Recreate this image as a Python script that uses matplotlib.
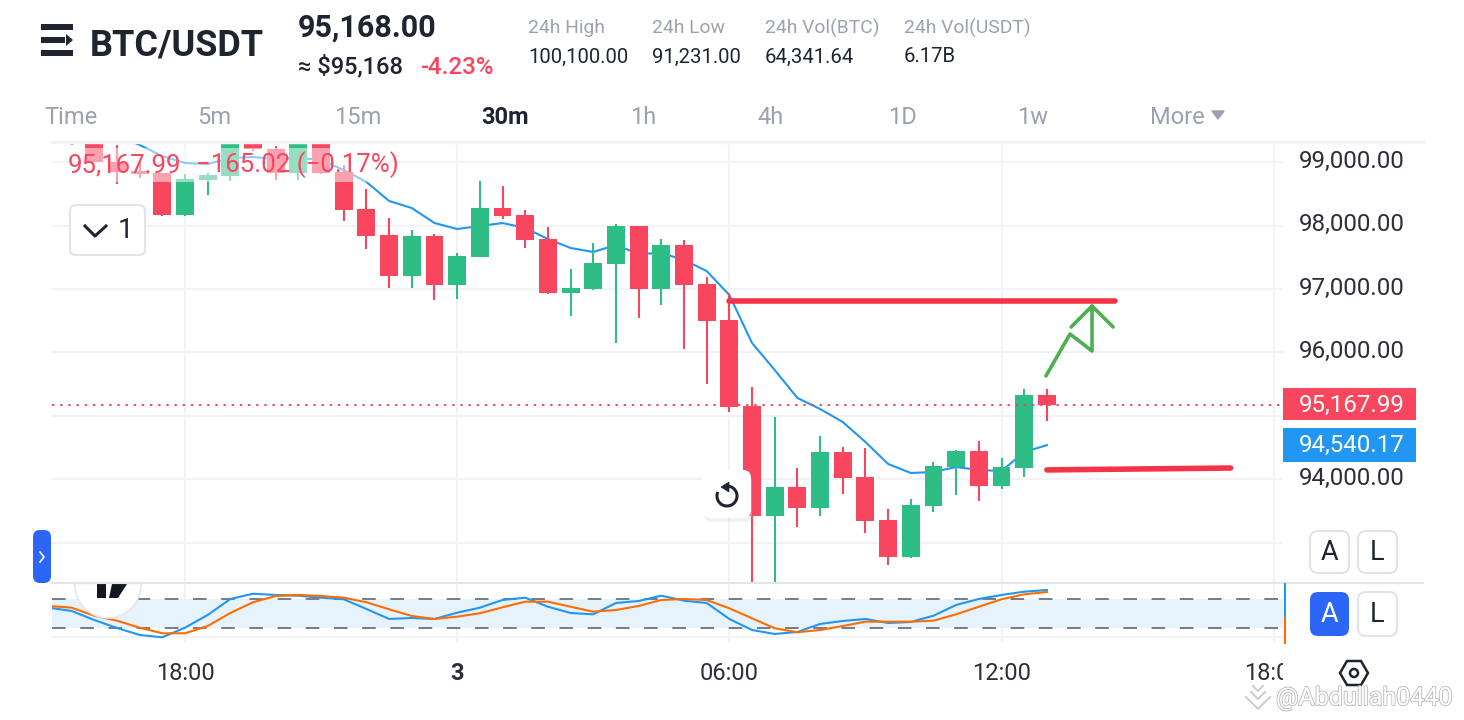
import numpy as np
import matplotlib
matplotlib.use("Agg")
import matplotlib.pyplot as plt
import matplotlib.patheffects as pe
from matplotlib.patches import Circle, FancyBboxPatch, Polygon, Rectangle
from matplotlib.transforms import ScaledTranslation

plt.rcParams['font.family'] = ['Roboto', 'DejaVu Sans']

# candles, one every 30 min, bar number 0 is the 18:00 one
bar_no = list(range(-5, 39))
opens = [99400, 99700, 99000, 98858, 98827, 98165, 98716, 98780, 99500, 99205, 98827, 99500, 98842, 98260,
         97850, 97205, 97835, 97062, 97504, 98275, 98165, 97787, 96937, 97000, 97393, 97992, 97000, 97693,
         97078, 96512, 95157, 93425, 93881, 93550, 94432, 94039, 93362, 92779, 93582, 94196, 94448, 93897,
         94180, 95330]
highs = [99650, 99750, 99268, 99000, 98827, 98811, 98827, 99500, 99600, 99252, 99600, 99600, 98953, 98575,
         98118, 97929, 97866, 97567, 98700, 98622, 98244, 97976, 97315, 97724, 98024, 97992, 97787, 97772,
         97189, 96937, 95456, 94984, 94180, 94685, 94511, 94496, 93535, 93692, 94275, 94464, 94606, 94338,
         95425, 95425]
lows = [99268, 99000, 98652, 98748, 98150, 98150, 98480, 98700, 99173, 98716, 98716, 98811, 98071, 97630,
        97015, 97015, 96826, 96842, 97504, 98102, 97646, 96921, 96575, 96984, 96150, 96543, 96748, 96055,
        95504, 95062, 92100, 92200, 93252, 93425, 93771, 93157, 92653, 92763, 93488, 93755, 93661, 93850,
        94039, 94921]
closes = [99600, 99000, 98842, 98811, 98165, 98732, 98795, 99400, 99205, 98827, 99500, 98827, 98244, 97835,
          97205, 97835, 97062, 97520, 98275, 98150, 97772, 96937, 97015, 97409, 97992, 97000, 97693, 97062,
          96496, 95141, 93425, 93881, 93550, 94432, 94023, 93346, 92779, 93598, 94212, 94448, 93897, 94196,
          95330, 95168]

# moving average, starts at bar -3
ma_no = list(range(-3, 39))
ma_vals = [99410, 99268, 99095, 98984, 98968, 99063, 99079, 99047, 99063, 99032, 98874, 98685, 98386, 98275,
           98039, 97945, 97992, 98039, 97961, 97787, 97646, 97583, 97693, 97551, 97567, 97457, 97283, 96905,
           96150, 95724, 95283, 95110, 94905, 94590, 94244, 94102, 94118, 94196, 94149, 94133, 94432, 94540]

# lower panel, starts at bar -6
osc_no = list(range(-6, 39))
osc_k = [61.4, 54.6, 35.9, 19.4, 4.9, 0.1, 20, 46.3, 79.4, 90.3, 87.7, 86.2, 82.1, 78.8, 58.7, 38, 40.1, 38, 51,
         61.4, 77.3, 82.1, 63.4, 50.4, 47.7, 71.1, 75.2, 86.2, 75.9, 71.1, 38, 15.2, 7, 11.1, 27.7, 33.9, 38,
         29.7, 31.8, 44.8, 67, 79.4, 87.7, 94.5, 98]
osc_d = [64.9, 61.4, 44.8, 34.5, 20, 8.4, 8.4, 23.5, 50.4, 72.6, 85.6, 87.7, 85.6, 82.1, 72.6, 58.1, 44.2, 38,
         42.8, 49.8, 62.2, 73.8, 73.8, 63.4, 53.1, 56.6, 64.9, 77.3, 79.4, 77.3, 60.1, 39.4, 18.8, 10.5, 15.2,
         23.5, 32.4, 32.4, 32.4, 34.5, 47.7, 63.4, 78.8, 89.1, 93.9]

# hand drawn stuff on the chart
resist_x, resist_y = [24, 41], [96811, 96811]
support_x, support_y = [38, 46.1], [94150, 94180]
arrow_x = [37.96, 39.02, 39.99, 39.99]
arrow_y = [95630, 96291, 96023, 96732]
head_x = [39.07, 39.99, 40.92]
head_y = [96401, 96732, 96401]

last_price = 95167.99
ma_last = 94540.17

y_ticks = [99000, 98000, 97000, 96000, 95000, 94000, 93000]
y_labels = ['99,000.00', '98,000.00', '97,000.00', '96,000.00', '', '94,000.00', '']
x_ticks = [0, 12, 24, 36, 48]
x_labels = ['18:00', '3', '06:00', '12:00', '18:00']

tabs = ['5m', '15m', '30m', '1h', '4h', '1D', '1w']
tab_x = [214, 358, 505, 643, 771, 902, 1033]
stat_names = ['24h High', '24h Low', '24h Vol(BTC)', '24h Vol(USDT)']
stat_vals = ['100,100.00', '91,231.00', '64,341.64', '6.17B']
stat_x = [528, 652, 765, 904]

RED = '#F9465F'
GREEN = '#2EBD85'
BLUE = '#2196F3'
ORANGE = '#FF6D00'
DARK = '#1F2430'
GRAY = '#9BA2AE'
GRID = '#F2F3F5'
W, H = 1464, 720


def axes_box(left, top, right, bottom):
    return [left / W, 1 - bottom / H, (right - left) / W, (bottom - top) / H]


fig = plt.figure(figsize=(14.64, 7.2), dpi=100, facecolor='white')

# price panel
ax = fig.add_axes(axes_box(52, 141, 1283, 583))
ax.set_xlim(-5.864, 48.41)
ax.set_ylim(92369, 99331)
ax.set_axisbelow(True)
ax.grid(True, color=GRID, lw=1.5)
for s in ax.spines.values():
    s.set_visible(False)
ax.plot(ma_no, ma_vals, color=BLUE, lw=1.5, zorder=2)
for i, o, h, l, c in zip(bar_no, opens, highs, lows, closes):
    col = GREEN if c >= o else RED
    ax.vlines(i, l, h, color=col, lw=1.5, zorder=3)
    ax.bar(i, abs(c - o), bottom=min(o, c), width=0.79, color=col, zorder=3)
ax.axhline(last_price, color=RED, lw=1.4, ls=(0, (1.2, 3)), zorder=4)
ax.plot(resist_x, resist_y, color='#F43346', lw=4, solid_capstyle='round', zorder=5)
ax.plot(support_x, support_y, color='#F43346', lw=4, solid_capstyle='round', zorder=5)
ax.plot(arrow_x, arrow_y, color='#4CAF50', lw=2.6, solid_capstyle='round', solid_joinstyle='round', zorder=5)
ax.plot(head_x, head_y, color='#4CAF50', lw=2.6, solid_capstyle='round', solid_joinstyle='round', zorder=5)
ax.set_xticks(x_ticks)
ax.set_xticklabels([])
ax.set_yticks(y_ticks)
ax.set_yticklabels(y_labels, fontsize=17.4, color='#2B2F3A')
ax.yaxis.tick_right()
ax.tick_params(length=0)
ax.tick_params(axis='y', pad=11.5)
# labels sit a little above their grid lines
up = ScaledTranslation(0, 2.5 / 72, fig.dpi_scale_trans)
for lab in ax.get_yticklabels():
    lab.set_transform(lab.get_transform() + up)

# oscillator panel
ax2 = fig.add_axes(axes_box(52, 584, 1283, 643))
ax2.set_xlim(-5.864, 48.41)
ax2.set_ylim(-11.7, 110.4)
ax2.set_axisbelow(True)
ax2.grid(True, color=GRID, lw=1.5)
for s in ax2.spines.values():
    s.set_visible(False)
ax2.axhspan(20, 80, color='#E6F3FD', lw=0, zorder=1)
ax2.axhline(80, color='#787B86', lw=1.4, ls=(0, (7, 7.5)), zorder=2)
ax2.axhline(20, color='#787B86', lw=1.4, ls=(0, (7, 7.5)), zorder=2)
ax2.plot(osc_no, osc_k, color=BLUE, lw=1.5, zorder=3)
ax2.plot(osc_no, osc_d, color=ORANGE, lw=1.5, zorder=4)
ax2.set_xticks(x_ticks)
ax2.set_xticklabels(x_labels, fontsize=17, color='#2B2F3A')
ax2.get_xticklabels()[1].set_fontweight('bold')
ax2.set_yticks([0])
ax2.set_yticklabels([])
ax2.tick_params(length=0)
ax2.tick_params(axis='x', pad=14)

# everything around the chart, in screen pixels
ui = fig.add_axes([0, 0, 1, 1], facecolor='none', zorder=10)
ui.set_xlim(0, W)
ui.set_ylim(H, 0)
ui.axis('off')


def box(x0, y0, x1, y1, fc='white', ec='#E2E4EA', r=6, lw=1.5, **kw):
    p = FancyBboxPatch((x0, y0), x1 - x0, y1 - y0, boxstyle=f'round,pad=0,rounding_size={r}',
                       fc=fc, ec=ec, lw=lw, **kw)
    ui.add_patch(p)


# hide the end of the last time label
ui.add_patch(Rectangle((1283, 650), 40, 36, fc='white', ec='none'))

# frame lines
ui.plot([52, 1423], [141.5, 141.5], color=GRID, lw=2.5)
ui.plot([52, 1423], [583, 583], color='#E3E5EA', lw=1.5)
ui.plot([1284.5, 1284.5], [584, 618], color=BLUE, lw=1.5)
ui.plot([1284.5, 1284.5], [618, 643], color=ORANGE, lw=1.5)

# header
for y0, x1 in [(24, 73), (50, 73)]:
    ui.add_patch(Rectangle((41, y0), x1 - 41, 6, fc=DARK, ec='none'))
ui.add_patch(Rectangle((41, 37), 24, 6, fc=DARK, ec='none'))
ui.add_patch(Polygon([[66, 34], [73, 40], [66, 46]], fc=DARK, ec='none'))
ui.text(90, 46, 'BTC/USDT', fontsize=26, fontweight='bold', color=DARK, va='center')
ui.text(298, 28, '95,168.00', fontsize=22, fontweight='bold', color=DARK, va='center')
ui.text(298, 67, '≈ $95,168', fontsize=17, fontweight='medium', color=DARK, va='center')
ui.text(420, 67, '-4.23%', fontsize=17.4, fontweight='medium', color=RED, va='center')
for name, val, x in zip(stat_names, stat_vals, stat_x):
    ui.text(x, 28, name, fontsize=13.9, color=GRAY, va='center')
    ui.text(x, 57, val, fontsize=14.6, color=DARK, va='center')

# interval tabs
ui.text(44, 118, 'Time', fontsize=17, color=GRAY, va='center')
for t, x in zip(tabs, tab_x):
    if t == '30m':
        ui.text(x, 118, t, fontsize=17, fontweight='bold', color=DARK, va='center', ha='center')
    else:
        ui.text(x, 118, t, fontsize=17, color=GRAY, va='center', ha='center')
ui.text(1150, 118, 'More', fontsize=17, color=GRAY, va='center')
ui.add_patch(Polygon([[1212, 111], [1224, 111], [1218, 119]], fc=GRAY, ec=GRAY, lw=1, joinstyle='round'))

# legend over the candles
ui.add_patch(Rectangle((68, 148), 329, 34, fc='white', ec='none', alpha=0.5))
ui.text(68, 165, '95,167.99', fontsize=18.6, color=RED, va='center')
ui.text(196, 165, '−165.02 (−0.17%)', fontsize=18.6, color=RED, va='center')

box(70, 205, 145, 255)
ui.plot([85, 95, 106], [226, 236, 226], color=DARK, lw=2.2)
ui.text(126, 231, '1', fontsize=20, color=DARK, va='center', ha='center')

# side tab
box(33, 530, 51, 583, fc='#2B66F6', ec='none', r=7)
ui.plot([40, 44, 40], [552, 557, 562], color='white', lw=1.2)

# logo bubble cut by the panel edge
ui.add_patch(Circle((108, 585), 33, fc='white', ec='#E6E7EB', lw=1.2))
ui.add_patch(Rectangle((70, 548), 76, 36, fc='white', ec='none'))
ui.add_patch(Rectangle((97, 584), 9, 14, fc='#131722', ec='none'))
ui.add_patch(Polygon([[112, 584], [127, 584], [118, 598], [109, 598]], fc='#131722', ec='none'))
ui.plot([70, 146], [583, 583], color='#E3E5EA', lw=1.5)

# replay button
box(704, 474, 752, 522, fc='#D8D8DC', ec='none', r=8, alpha=0.35)
box(703, 470, 751, 518, fc='white', ec='none', r=8)
t = np.radians(np.linspace(-80, 195, 60))
ui.plot(727 + 10 * np.cos(t), 496 + 10 * np.sin(t), color=DARK, lw=2.2)
ui.add_patch(Polygon([[721, 487], [729, 482], [729, 492]], fc=DARK, ec=DARK, lw=0.5))

# price tags
ui.add_patch(Rectangle((1283, 388), 133, 32, fc=RED, ec='none'))
ui.text(1299, 405, f'{last_price:,.2f}', fontsize=17.4, color='white', va='center')
ui.add_patch(Rectangle((1283, 428), 133, 34, fc=BLUE, ec='none'))
ui.text(1299, 445, f'{ma_last:,.2f}', fontsize=17.4, color='white', va='center')

# auto / log buttons
box(1310, 531, 1349, 573, r=8)
box(1358, 531, 1397, 573, r=8)
box(1310, 592, 1349, 636, fc='#2B66F6', ec='none', r=8)
box(1358, 592, 1397, 636, r=8)
for y, col in [(553, DARK), (615, 'white')]:
    ui.text(1329, y, 'A', fontsize=19.5, color=col, va='center', ha='center')
    ui.text(1377, y, 'L', fontsize=19.5, color=DARK, va='center', ha='center')

# settings hexagon
ui.add_patch(Polygon([[1340, 673], [1347, 661], [1361, 661], [1368, 673], [1361, 685], [1347, 685]],
                     fc='white', ec=DARK, lw=1.8))
ui.add_patch(Circle((1354, 673), 4, fc='white', ec=DARK, lw=1.8))

# watermark
ui.plot([1246, 1258, 1270], [697, 709, 697], color='#CFCFCF', lw=1.5)
ui.plot([1251, 1258, 1265], [692, 699, 692], color='#CFCFCF', lw=1.5)
ui.plot([1253, 1258, 1263], [686, 691, 686], color='#CFCFCF', lw=1.5)
ui.text(1276, 698, '@Abdullah0440', fontsize=18, color='white', va='center',
        path_effects=[pe.withStroke(linewidth=1.3, foreground='#BDBDBD')])

fig.savefig('out.png', dpi=100)
